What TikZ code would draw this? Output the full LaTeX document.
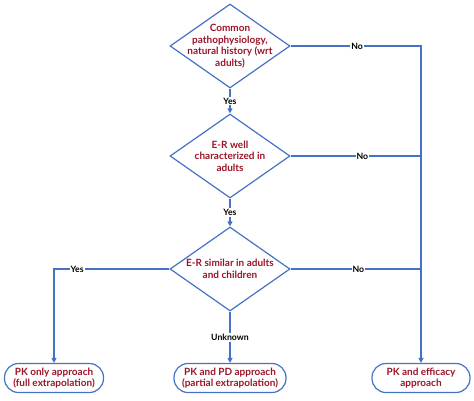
\documentclass[tikz,border=0pt]{standalone}
\usepackage{fontspec}
\setmainfont{Lato}
\usetikzlibrary{shapes.geometric,positioning,arrows.meta}
\definecolor{flowblue}{RGB}{68,114,196}
\definecolor{flowred}{RGB}{155,20,40}

\begin{document}
\begin{tikzpicture}[x=1pt,y=-1pt,
  decision/.style={diamond,draw=flowblue,line width=1.2pt,minimum width=120pt,minimum height=84pt,inner sep=0pt},
  decisiontext/.style={text=flowred,font=\fontsize{10}{11.5}\selectfont\bfseries,align=center},
  outcome/.style={draw=flowblue,line width=1.2pt,rounded corners=14pt,minimum height=29pt,inner sep=2pt,
    text=flowred,font=\fontsize{10}{11.5}\selectfont\bfseries,align=center},
  flowline/.style={draw=flowblue,line width=1.2pt},
  flowarrow/.style={flowline,-{Triangle[width=5pt,length=5pt]}},
  answer/.style={fill=white,inner sep=1pt,font=\fontsize{8.7}{10}\selectfont\bfseries}]
\useasboundingbox (0,0) rectangle (474,400);

% decisions
\node[decision,label={[decisiontext]center:Common\\pathophysiology,\\natural history (wrt\\adults)}] (history) at (230,46) {};
\node[decision,label={[decisiontext]center:E-R well\\characterized in\\adults}] (wellchar) at (230,156) {};
\node[decision,label={[decisiontext]center:E-R similar in adults\\and children}] (similar) at (230,269) {};

% approaches
\node[outcome,minimum width=99pt] (pkonly) at (54,378) {PK only approach\\(full extrapolation)};
\node[outcome,minimum width=112pt] (pkpd) at (230,378) {PK and PD approach\\(partial extrapolation)};
\node[outcome,minimum width=98pt] (pkeff) at (421,378) {PK and efficacy\\approach};

% yes branches
\draw[flowarrow] (history) -- node[answer]{Yes} (wellchar);
\draw[flowarrow] (wellchar) -- node[answer]{Yes} (similar);
\draw[flowarrow] (similar.west) -- node[answer,pos=.8]{Yes} (similar.west -| pkonly) -- (pkonly);
\draw[flowarrow] (similar) -- node[answer]{Unknown} (pkpd);

% no branches
\draw[flowarrow] (history.east) -- node[answer,pos=.51]{No} (history.east -| pkeff) -- (pkeff);
\draw[flowline] (wellchar.east) -- node[answer,pos=.55]{No} (wellchar.east -| pkeff);
\draw[flowline] (similar.east) -- node[answer,pos=.52]{No} (similar.east -| pkeff);
\end{tikzpicture}
\end{document}
